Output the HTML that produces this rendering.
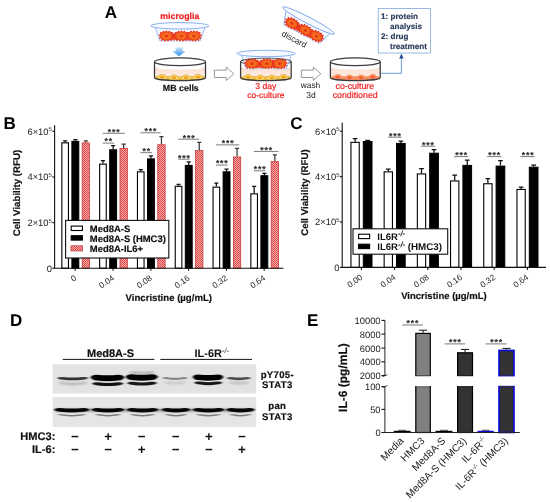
<!DOCTYPE html>
<html><head><meta charset="utf-8"><title>Figure</title>
<style>
html,body{margin:0;padding:0;background:#fff;}
body{width:550px;height:502px;overflow:hidden;}
svg{display:block;filter:blur(0.38px);font-family:"Liberation Sans",Arial,Helvetica,sans-serif;text-rendering:geometricPrecision;}
</style></head><body>
<svg width="550" height="502" viewBox="0 0 550 502">
<defs>
<pattern id="chk" width="2" height="2" patternUnits="userSpaceOnUse">
<rect width="2" height="2" fill="#f5acac"/>
<rect x="0" y="0" width="1" height="1" fill="#de4646"/>
<rect x="1" y="1" width="1" height="1" fill="#de4646"/>
</pattern>
<linearGradient id="barrow" x1="0" y1="0" x2="0" y2="1">
<stop offset="0" stop-color="#cfe6fb"/><stop offset="1" stop-color="#2f8fe6"/>
</linearGradient>
<linearGradient id="med" x1="0" y1="0" x2="0" y2="1"><stop offset="0" stop-color="#fcdfd2"/><stop offset="0.55" stop-color="#fde9e0"/><stop offset="1" stop-color="#fdf1ec"/></linearGradient>
<filter id="b1" x="-20%" y="-200%" width="140%" height="500%"><feGaussianBlur stdDeviation="1.1 0.55"/></filter>
<filter id="b2" x="-20%" y="-200%" width="140%" height="500%"><feGaussianBlur stdDeviation="1.3 0.8"/></filter>
<filter id="bc" x="-20%" y="-20%" width="140%" height="140%"><feGaussianBlur stdDeviation="0.35"/></filter>
<g id="mcell"><g transform="scale(1.03 0.96)">
<path d="M0,-5.3 L1.3,-3.6 L3.2,-5 L3.5,-3 L6,-3.6 L5.2,-1.6 L7.4,-0.6 L5.4,0.6 L7,2.4 L4.6,2.6 L4.8,4.8 L2.6,3.8 L1.6,5.6 L0,4 L-1.6,5.6 L-2.6,3.8 L-4.8,4.8 L-4.6,2.6 L-7,2.4 L-5.4,0.6 L-7.4,-0.6 L-5.2,-1.6 L-6,-3.6 L-3.5,-3 L-3.2,-5 L-1.3,-3.6 Z" fill="#f2601c" stroke="#ea2c1c" stroke-width="0.9" stroke-linejoin="round"/>
<ellipse cx="0" cy="0.2" rx="3.6" ry="2.6" fill="#f3741e"/>
<ellipse cx="0" cy="0.2" rx="1.9" ry="1.4" fill="#e8321c"/>
</g></g>
</defs>
<rect width="550" height="502" fill="#fff"/>

<text x="104.7" y="17.5" font-size="17" font-weight="bold" fill="#000" text-anchor="start">A</text>
<text x="3.5" y="128.5" font-size="17" font-weight="bold" fill="#000" text-anchor="start">B</text>
<text x="290.2" y="128.6" font-size="17" font-weight="bold" fill="#000" text-anchor="start">C</text>
<text x="10.1" y="326.2" font-size="17" font-weight="bold" fill="#000" text-anchor="start">D</text>
<text x="306.9" y="326.4" font-size="17" font-weight="bold" fill="#000" text-anchor="start">E</text>
<g id="panelA">
<text x="179.8" y="18.8" font-size="8.8" font-weight="bold" fill="#ee1c1c" text-anchor="middle" stroke="#ee1c1c" stroke-width="0.18">microglia</text>
<g ><path d="M155.60000000000002,27.8 L160.0,41.0 L200.0,41.0 L204.60000000000002,27.8 Z" fill="#f3f8ff" stroke="none"/><ellipse cx="179.8" cy="25.8" rx="29.1" ry="3.2" fill="#f6f9ff" stroke="#6f9de8" stroke-width="0.8"/><path d="M155.4,28.0 L160.0,41.0 M204.8,28.0 L200.0,41.0" fill="none" stroke="#7da7ea" stroke-width="0.8"/><path d="M160.0,41.0 L200.0,41.0" fill="none" stroke="#7da7ea" stroke-width="0.9" stroke-dasharray="1.5 1.2"/><use href="#mcell" x="173.8" y="36.6" transform="translate(52.14 10.98) scale(0.7)"/><use href="#mcell" x="187.8" y="36.6" transform="translate(56.34 10.98) scale(0.7)"/><use href="#mcell" x="166.4" y="35.8"/><use href="#mcell" x="181.4" y="35.8"/><use href="#mcell" x="194.0" y="35.8"/></g>
<path d="M175.6,47.2 L182.7,47.2 L182.7,51.3 L185.6,51.3 L179.1,56.2 L172.4,51.3 L175.6,51.3 Z" fill="url(#barrow)"/>
<g><path d="M155.0,67.2 A25.0,2.4 0 0 0 205.0,67.2 L205.0,77.39999999999999 A25.0,3.2 0 0 1 155.0,77.39999999999999 Z" fill="url(#med)"/><path d="M155.7,76.49999999999999 L204.3,76.49999999999999 L204.3,77.39999999999999 A24.3,2.7 0 0 1 155.7,77.39999999999999 Z" fill="#fcd96a" stroke="#d6981c" stroke-width="0.5"/><path d="M155.30,78.74 C158.04,77.94 158.38,74.34 162.15,74.34 C165.92,74.34 166.26,77.94 169.00,78.74 Q162.15,80.64 155.30,78.74 Z" fill="#fcd96a" stroke="#d6981c" stroke-width="0.65" stroke-linejoin="round"/><ellipse cx="162.15" cy="77.14" rx="2.0" ry="1.2" fill="#ee9a1c"/><path d="M167.20,79.34 C169.94,78.54 170.28,74.94 174.05,74.94 C177.82,74.94 178.16,78.54 180.90,79.34 Q174.05,81.24 167.20,79.34 Z" fill="#fcd96a" stroke="#d6981c" stroke-width="0.65" stroke-linejoin="round"/><ellipse cx="174.05" cy="77.74" rx="2.0" ry="1.2" fill="#ee9a1c"/><path d="M179.10,79.34 C181.84,78.54 182.18,74.94 185.95,74.94 C189.72,74.94 190.06,78.54 192.80,79.34 Q185.95,81.24 179.10,79.34 Z" fill="#fcd96a" stroke="#d6981c" stroke-width="0.65" stroke-linejoin="round"/><ellipse cx="185.95" cy="77.74" rx="2.0" ry="1.2" fill="#ee9a1c"/><path d="M191.00,78.74 C193.74,77.94 194.08,74.34 197.85,74.34 C201.62,74.34 201.96,77.94 204.70,78.74 Q197.85,80.64 191.00,78.74 Z" fill="#fcd96a" stroke="#d6981c" stroke-width="0.65" stroke-linejoin="round"/><ellipse cx="197.85" cy="77.14" rx="2.0" ry="1.2" fill="#ee9a1c"/><path d="M154.5,61.8 L154.5,77.39999999999999 A25.5,3.2 0 0 0 205.5,77.39999999999999 L205.5,61.8" fill="none" stroke="#3c3c3c" stroke-width="1.3"/><ellipse cx="180.0" cy="61.8" rx="25.5" ry="3.9" fill="#fff" stroke="#3c3c3c" stroke-width="1.3"/></g>
<text x="180.8" y="90.7" font-size="8.9" font-weight="bold" fill="#111" text-anchor="middle" stroke="#111" stroke-width="0.18">MB cells</text>
<path d="M214.4,70.1 L226.3,70.1 L226.3,67.1 L233.8,73.8 L226.3,80.5 L226.3,77.5 L214.4,77.5 Z" fill="#fff" stroke="#808080" stroke-width="0.8" stroke-linejoin="miter"/>
<g><path d="M241.09999999999997,67.0 A24.8,2.4 0 0 0 290.7,67.0 L290.7,77.5 A24.8,3.2 0 0 1 241.09999999999997,77.5 Z" fill="url(#med)"/><path d="M241.79999999999995,76.6 L290.0,76.6 L290.0,77.5 A24.1,2.7 0 0 1 241.79999999999995,77.5 Z" fill="#fcd96a" stroke="#d6981c" stroke-width="0.5"/><path d="M241.40,78.84 C244.12,78.04 244.46,74.44 248.20,74.44 C251.94,74.44 252.28,78.04 255.00,78.84 Q248.20,80.74 241.40,78.84 Z" fill="#fcd96a" stroke="#d6981c" stroke-width="0.65" stroke-linejoin="round"/><ellipse cx="248.20" cy="77.24" rx="2.0" ry="1.2" fill="#ee9a1c"/><path d="M253.20,79.44 C255.92,78.64 256.26,75.04 260.00,75.04 C263.74,75.04 264.08,78.64 266.80,79.44 Q260.00,81.34 253.20,79.44 Z" fill="#fcd96a" stroke="#d6981c" stroke-width="0.65" stroke-linejoin="round"/><ellipse cx="260.00" cy="77.84" rx="2.0" ry="1.2" fill="#ee9a1c"/><path d="M265.00,79.44 C267.72,78.64 268.06,75.04 271.80,75.04 C275.54,75.04 275.88,78.64 278.60,79.44 Q271.80,81.34 265.00,79.44 Z" fill="#fcd96a" stroke="#d6981c" stroke-width="0.65" stroke-linejoin="round"/><ellipse cx="271.80" cy="77.84" rx="2.0" ry="1.2" fill="#ee9a1c"/><path d="M276.80,78.84 C279.52,78.04 279.86,74.44 283.60,74.44 C287.34,74.44 287.68,78.04 290.40,78.84 Q283.60,80.74 276.80,78.84 Z" fill="#fcd96a" stroke="#d6981c" stroke-width="0.65" stroke-linejoin="round"/><ellipse cx="283.60" cy="77.24" rx="2.0" ry="1.2" fill="#ee9a1c"/><path d="M240.59999999999997,61.6 L240.59999999999997,77.5 A25.3,3.2 0 0 0 291.2,77.5 L291.2,61.6" fill="none" stroke="#3c3c3c" stroke-width="1.3"/><ellipse cx="265.9" cy="61.6" rx="25.3" ry="3.4" fill="none" stroke="#3c3c3c" stroke-width="1.0"/></g>
<g ><path d="M241.90000000000003,55.5 L246.3,68.7 L286.3,68.7 L290.90000000000003,55.5 Z" fill="#f3f8ff" stroke="none"/><ellipse cx="266.1" cy="53.5" rx="29.1" ry="3.2" fill="#f6f9ff" stroke="#6f9de8" stroke-width="0.8"/><path d="M241.70000000000002,55.7 L246.3,68.7 M291.1,55.7 L286.3,68.7" fill="none" stroke="#7da7ea" stroke-width="0.8"/><path d="M246.3,68.7 L286.3,68.7" fill="none" stroke="#7da7ea" stroke-width="0.9" stroke-dasharray="1.5 1.2"/><use href="#mcell" x="260.1" y="64.3" transform="translate(78.03 19.29) scale(0.7)"/><use href="#mcell" x="274.1" y="64.3" transform="translate(82.23 19.29) scale(0.7)"/><use href="#mcell" x="251.90000000000003" y="63.5"/><use href="#mcell" x="266.90000000000003" y="63.5"/><use href="#mcell" x="279.70000000000005" y="63.5"/></g>
<path d="M240.6,61.6 A25.3,3.4 0 0 1 291.2,61.6" fill="none" stroke="#2e2e2e" stroke-opacity="0.75" stroke-width="1"/>
<text x="265.8" y="89.2" font-size="8.6" font-weight="normal" fill="#f02020" text-anchor="middle" stroke="#f02020" stroke-width="0.2">3 day</text>
<text x="265.8" y="98.0" font-size="8.5" font-weight="normal" fill="#f02020" text-anchor="middle" stroke="#f02020" stroke-width="0.2">co-culture</text>
<path d="M301.4,70.1 L313.3,70.1 L313.3,67.1 L320.8,73.8 L313.3,80.5 L313.3,77.5 L301.4,77.5 Z" fill="#fff" stroke="#808080" stroke-width="0.8" stroke-linejoin="miter"/>
<text x="310.5" y="87.6" font-size="8.3" font-weight="normal" fill="#222" text-anchor="middle">wash</text>
<text x="310.9" y="97.9" font-size="8.5" font-weight="normal" fill="#222" text-anchor="middle">3d</text>
<g transform="rotate(27.5 308.5 20.5)"><g ><path d="M284.3,22.5 L288.7,35.7 L328.7,35.7 L333.3,22.5 Z" fill="#f3f8ff" stroke="none"/><ellipse cx="308.5" cy="20.5" rx="29.1" ry="3.2" fill="#f6f9ff" stroke="#6f9de8" stroke-width="0.8"/><path d="M284.1,22.7 L288.7,35.7 M333.5,22.7 L328.7,35.7" fill="none" stroke="#7da7ea" stroke-width="0.8"/><path d="M288.7,35.7 L328.7,35.7" fill="none" stroke="#7da7ea" stroke-width="0.9" stroke-dasharray="1.5 1.2"/><use href="#mcell" x="302.5" y="31.3" transform="translate(90.75 9.39) scale(0.7)"/><use href="#mcell" x="316.5" y="31.3" transform="translate(94.95 9.39) scale(0.7)"/><use href="#mcell" x="295.1" y="30.5"/><use href="#mcell" x="310.1" y="30.5"/><use href="#mcell" x="322.7" y="30.5"/></g><text x="304.5" y="46.6" font-size="8.3" font-weight="normal" fill="#222" text-anchor="middle">discard</text></g>
<g><path d="M330.90000000000003,67.2 A24.4,2.4 0 0 0 379.7,67.2 L379.7,77.39999999999999 A24.4,3.2 0 0 1 330.90000000000003,77.39999999999999 Z" fill="url(#med)"/><path d="M331.6,76.49999999999999 L379.0,76.49999999999999 L379.0,77.39999999999999 A23.7,2.7 0 0 1 331.6,77.39999999999999 Z" fill="#fb8a82" stroke="#f3962a" stroke-width="0.5"/><path d="M331.20,78.75 C333.88,77.95 334.22,74.35 337.90,74.35 C341.59,74.35 341.92,77.95 344.60,78.75 Q337.90,80.65 331.20,78.75 Z" fill="#fb8a82" stroke="#f3962a" stroke-width="0.65" stroke-linejoin="round"/><ellipse cx="337.90" cy="77.15" rx="2.0" ry="1.2" fill="#f2600f"/><path d="M342.80,79.34 C345.48,78.54 345.81,74.94 349.50,74.94 C353.19,74.94 353.52,78.54 356.20,79.34 Q349.50,81.24 342.80,79.34 Z" fill="#fb8a82" stroke="#f3962a" stroke-width="0.65" stroke-linejoin="round"/><ellipse cx="349.50" cy="77.74" rx="2.0" ry="1.2" fill="#f2600f"/><path d="M354.40,79.34 C357.08,78.54 357.42,74.94 361.10,74.94 C364.79,74.94 365.12,78.54 367.80,79.34 Q361.10,81.24 354.40,79.34 Z" fill="#fb8a82" stroke="#f3962a" stroke-width="0.65" stroke-linejoin="round"/><ellipse cx="361.10" cy="77.74" rx="2.0" ry="1.2" fill="#f2600f"/><path d="M366.00,78.75 C368.68,77.95 369.02,74.35 372.70,74.35 C376.39,74.35 376.72,77.95 379.40,78.75 Q372.70,80.65 366.00,78.75 Z" fill="#fb8a82" stroke="#f3962a" stroke-width="0.65" stroke-linejoin="round"/><ellipse cx="372.70" cy="77.15" rx="2.0" ry="1.2" fill="#f2600f"/><path d="M330.40000000000003,61.8 L330.40000000000003,77.39999999999999 A24.9,3.2 0 0 0 380.2,77.39999999999999 L380.2,61.8" fill="none" stroke="#3c3c3c" stroke-width="1.3"/><ellipse cx="355.3" cy="61.8" rx="24.9" ry="3.9" fill="#fff" stroke="#3c3c3c" stroke-width="1.3"/></g>
<text x="354.8" y="89.2" font-size="8.8" font-weight="normal" fill="#f02020" text-anchor="middle" stroke="#f02020" stroke-width="0.2">co-culture</text>
<text x="355.2" y="98" font-size="8.8" font-weight="normal" fill="#f02020" text-anchor="middle" stroke="#f02020" stroke-width="0.2">conditioned</text>
<path d="M381,73.3 L401.4,73.3 L401.4,57" fill="none" stroke="#6d98d6" stroke-width="1"/>
<path d="M401.4,53.6 L403.6,58.4 L399.2,58.4 Z" fill="#24479a"/>
<rect x="378.2" y="8.4" width="52.4" height="44.6" fill="#fff" stroke="#6f9fd8" stroke-width="0.7"/>
<text x="381" y="19.4" font-size="8.1" font-weight="bold" fill="#2d3e5f" text-anchor="start" stroke="#2d3e5f" stroke-width="0.18">1: protein</text>
<text x="390" y="28.9" font-size="8.1" font-weight="bold" fill="#2d3e5f" text-anchor="start" stroke="#2d3e5f" stroke-width="0.18">analysis</text>
<text x="381" y="38.5" font-size="8.1" font-weight="bold" fill="#2d3e5f" text-anchor="start" stroke="#2d3e5f" stroke-width="0.18">2: drug</text>
<text x="390" y="48.6" font-size="8.1" font-weight="bold" fill="#2d3e5f" text-anchor="start" stroke="#2d3e5f" stroke-width="0.18">treatment</text>
</g>
<g id="panelB">
<text x="20.5" y="193.1" font-size="9.7" font-weight="bold" fill="#111" text-anchor="middle" transform="rotate(-90 20.5 193.1)" stroke="#111" stroke-width="0.18">Cell Viability (RFU)</text>
<path d="M65.14999999999999,142.3 L65.14999999999999,140.8 M63.099999999999994,140.8 L67.19999999999999,140.8" stroke="#111" stroke-width="1.25" fill="none"/><rect x="61.85" y="142.85" width="6.60" height="125.35" fill="#fff" stroke="#000" stroke-width="1.1"/>
<path d="M75.35,140.8 L75.35,139.6 M73.3,139.6 L77.39999999999999,139.6" stroke="#111" stroke-width="1.25" fill="none"/><rect x="71.90" y="141.30" width="6.90" height="126.90" fill="#000" stroke="#000" stroke-width="1.0"/>
<path d="M85.85,142.5 L85.85,140.8 M83.8,140.8 L87.89999999999999,140.8" stroke="#3a3a3a" stroke-width="1.25" fill="none"/><rect x="82.15" y="142.85" width="7.40" height="125.35" fill="url(#chk)" stroke="#c03030" stroke-width="0.7"/>
<path d="M102.94999999999999,163.6 L102.94999999999999,160.5 M100.89999999999999,160.5 L104.99999999999999,160.5" stroke="#111" stroke-width="1.25" fill="none"/><rect x="99.65" y="164.15" width="6.60" height="104.05" fill="#fff" stroke="#000" stroke-width="1.1"/>
<path d="M113.14999999999999,149.3 L113.14999999999999,145.5 M111.1,145.5 L115.19999999999999,145.5" stroke="#111" stroke-width="1.25" fill="none"/><rect x="109.70" y="149.80" width="6.90" height="118.40" fill="#000" stroke="#000" stroke-width="1.0"/>
<path d="M123.64999999999999,148.0 L123.64999999999999,144.2 M121.6,144.2 L125.69999999999999,144.2" stroke="#3a3a3a" stroke-width="1.25" fill="none"/><rect x="119.95" y="148.35" width="7.40" height="119.85" fill="url(#chk)" stroke="#c03030" stroke-width="0.7"/>
<path d="M140.74999999999997,171.3 L140.74999999999997,169.5 M138.69999999999996,169.5 L142.79999999999998,169.5" stroke="#111" stroke-width="1.25" fill="none"/><rect x="137.45" y="171.85" width="6.60" height="96.35" fill="#fff" stroke="#000" stroke-width="1.1"/>
<path d="M150.94999999999996,158.4 L150.94999999999996,155.8 M148.89999999999995,155.8 L152.99999999999997,155.8" stroke="#111" stroke-width="1.25" fill="none"/><rect x="147.50" y="158.90" width="6.90" height="109.30" fill="#000" stroke="#000" stroke-width="1.0"/>
<path d="M161.45,144.4 L161.45,136.7 M159.39999999999998,136.7 L163.5,136.7" stroke="#3a3a3a" stroke-width="1.25" fill="none"/><rect x="157.75" y="144.75" width="7.40" height="123.45" fill="url(#chk)" stroke="#c03030" stroke-width="0.7"/>
<path d="M178.54999999999998,185.8 L178.54999999999998,184.3 M176.49999999999997,184.3 L180.6,184.3" stroke="#111" stroke-width="1.25" fill="none"/><rect x="175.25" y="186.35" width="6.60" height="81.85" fill="#fff" stroke="#000" stroke-width="1.1"/>
<path d="M188.74999999999997,164.9 L188.74999999999997,161.8 M186.69999999999996,161.8 L190.79999999999998,161.8" stroke="#111" stroke-width="1.25" fill="none"/><rect x="185.30" y="165.40" width="6.90" height="102.80" fill="#000" stroke="#000" stroke-width="1.0"/>
<path d="M199.25,150.1 L199.25,142.3 M197.2,142.3 L201.3,142.3" stroke="#3a3a3a" stroke-width="1.25" fill="none"/><rect x="195.55" y="150.45" width="7.40" height="117.75" fill="url(#chk)" stroke="#c03030" stroke-width="0.7"/>
<path d="M216.35,186.6 L216.35,183.0 M214.29999999999998,183.0 L218.4,183.0" stroke="#111" stroke-width="1.25" fill="none"/><rect x="213.05" y="187.15" width="6.60" height="81.05" fill="#fff" stroke="#000" stroke-width="1.1"/>
<path d="M226.54999999999998,171.3 L226.54999999999998,169.0 M224.49999999999997,169.0 L228.6,169.0" stroke="#111" stroke-width="1.25" fill="none"/><rect x="223.10" y="171.80" width="6.90" height="96.40" fill="#000" stroke="#000" stroke-width="1.0"/>
<path d="M237.05,156.6 L237.05,148.3 M235.0,148.3 L239.10000000000002,148.3" stroke="#3a3a3a" stroke-width="1.25" fill="none"/><rect x="233.35" y="156.95" width="7.40" height="111.25" fill="url(#chk)" stroke="#c03030" stroke-width="0.7"/>
<path d="M254.15,193.3 L254.15,186.3 M252.1,186.3 L256.2,186.3" stroke="#111" stroke-width="1.25" fill="none"/><rect x="250.85" y="193.85" width="6.60" height="74.35" fill="#fff" stroke="#000" stroke-width="1.1"/>
<path d="M264.35,175.2 L264.35,173.4 M262.3,173.4 L266.40000000000003,173.4" stroke="#111" stroke-width="1.25" fill="none"/><rect x="260.90" y="175.70" width="6.90" height="92.50" fill="#000" stroke="#000" stroke-width="1.0"/>
<path d="M274.85,161.0 L274.85,154.8 M272.8,154.8 L276.90000000000003,154.8" stroke="#3a3a3a" stroke-width="1.25" fill="none"/><rect x="271.15" y="161.35" width="7.40" height="106.85" fill="url(#chk)" stroke="#c03030" stroke-width="0.7"/>
<path d="M54.6,125.3 L54.6,268.2 L283.5,268.2" fill="none" stroke="#111" stroke-width="1.1"/><line x1="52.300000000000004" y1="268.2" x2="54.6" y2="268.2" stroke="#111" stroke-width="1.1"/><text x="51.9" y="271.5" font-size="9.4" font-weight="normal" fill="#222" text-anchor="end">0</text><line x1="52.300000000000004" y1="222.7" x2="54.6" y2="222.7" stroke="#111" stroke-width="1.1"/><text x="51.9" y="226.0" font-size="9.4" fill="#222" text-anchor="end">2×10<tspan font-size="6" dy="-3.4">5</tspan></text><line x1="52.300000000000004" y1="177.0" x2="54.6" y2="177.0" stroke="#111" stroke-width="1.1"/><text x="51.9" y="180.3" font-size="9.4" fill="#222" text-anchor="end">4×10<tspan font-size="6" dy="-3.4">5</tspan></text><line x1="52.300000000000004" y1="131.3" x2="54.6" y2="131.3" stroke="#111" stroke-width="1.1"/><text x="51.9" y="134.60000000000002" font-size="9.4" fill="#222" text-anchor="end">6×10<tspan font-size="6" dy="-3.4">5</tspan></text>
<line x1="75.2" y1="268.2" x2="75.2" y2="270.8" stroke="#111" stroke-width="1.1"/>
<text x="77.0" y="279.4" font-size="8.4" font-weight="normal" fill="#222" text-anchor="end" transform="rotate(-35 77.0 279.4)">0</text>
<line x1="113.0" y1="268.2" x2="113.0" y2="270.8" stroke="#111" stroke-width="1.1"/>
<text x="114.8" y="279.4" font-size="8.4" font-weight="normal" fill="#222" text-anchor="end" transform="rotate(-35 114.8 279.4)">0.04</text>
<line x1="150.8" y1="268.2" x2="150.8" y2="270.8" stroke="#111" stroke-width="1.1"/>
<text x="152.60000000000002" y="279.4" font-size="8.4" font-weight="normal" fill="#222" text-anchor="end" transform="rotate(-35 152.60000000000002 279.4)">0.08</text>
<line x1="188.6" y1="268.2" x2="188.6" y2="270.8" stroke="#111" stroke-width="1.1"/>
<text x="190.4" y="279.4" font-size="8.4" font-weight="normal" fill="#222" text-anchor="end" transform="rotate(-35 190.4 279.4)">0.16</text>
<line x1="226.39999999999998" y1="268.2" x2="226.39999999999998" y2="270.8" stroke="#111" stroke-width="1.1"/>
<text x="228.2" y="279.4" font-size="8.4" font-weight="normal" fill="#222" text-anchor="end" transform="rotate(-35 228.2 279.4)">0.32</text>
<line x1="264.2" y1="268.2" x2="264.2" y2="270.8" stroke="#111" stroke-width="1.1"/>
<text x="266.0" y="279.4" font-size="8.4" font-weight="normal" fill="#222" text-anchor="end" transform="rotate(-35 266.0 279.4)">0.64</text>
<text x="168.8" y="301.1" font-size="9.6" font-weight="bold" fill="#111" text-anchor="middle" stroke="#111" stroke-width="0.18">Vincristine (µg/mL)</text>
<line x1="102.64999999999999" y1="143.1" x2="114.14999999999999" y2="143.1" stroke="#444" stroke-width="0.7"/><text x="108.85" y="144.4" font-size="8.6" font-weight="bold" fill="#333" text-anchor="middle" letter-spacing="0.9" stroke="#333" stroke-width="0.18">**</text>
<line x1="102.64999999999999" y1="133.3" x2="124.8" y2="133.3" stroke="#444" stroke-width="0.7"/><text x="114.175" y="134.60000000000002" font-size="8.6" font-weight="bold" fill="#333" text-anchor="middle" letter-spacing="0.9" stroke="#333" stroke-width="0.18">***</text>
<line x1="140.44999999999996" y1="152.7" x2="151.95" y2="152.7" stroke="#444" stroke-width="0.7"/><text x="146.64999999999998" y="154.0" font-size="8.6" font-weight="bold" fill="#333" text-anchor="middle" letter-spacing="0.9" stroke="#333" stroke-width="0.18">**</text>
<line x1="140.44999999999996" y1="132.8" x2="160.6" y2="132.8" stroke="#444" stroke-width="0.7"/><text x="150.97499999999997" y="134.10000000000002" font-size="8.6" font-weight="bold" fill="#333" text-anchor="middle" letter-spacing="0.9" stroke="#333" stroke-width="0.18">***</text>
<line x1="178.24999999999997" y1="159.2" x2="189.75" y2="159.2" stroke="#444" stroke-width="0.7"/><text x="184.45" y="160.5" font-size="8.6" font-weight="bold" fill="#333" text-anchor="middle" letter-spacing="0.9" stroke="#333" stroke-width="0.18">***</text>
<line x1="178.24999999999997" y1="139.2" x2="199.2" y2="139.2" stroke="#444" stroke-width="0.7"/><text x="189.17499999999995" y="140.5" font-size="8.6" font-weight="bold" fill="#333" text-anchor="middle" letter-spacing="0.9" stroke="#333" stroke-width="0.18">***</text>
<line x1="216.04999999999998" y1="165.1" x2="227.55" y2="165.1" stroke="#444" stroke-width="0.7"/><text x="222.25" y="166.4" font-size="8.6" font-weight="bold" fill="#333" text-anchor="middle" letter-spacing="0.9" stroke="#333" stroke-width="0.18">***</text>
<line x1="216.04999999999998" y1="144.9" x2="239.2" y2="144.9" stroke="#444" stroke-width="0.7"/><text x="228.075" y="146.20000000000002" font-size="8.6" font-weight="bold" fill="#333" text-anchor="middle" letter-spacing="0.9" stroke="#333" stroke-width="0.18">***</text>
<line x1="253.85" y1="170.8" x2="265.35" y2="170.8" stroke="#444" stroke-width="0.7"/><text x="260.05" y="172.10000000000002" font-size="8.6" font-weight="bold" fill="#333" text-anchor="middle" letter-spacing="0.9" stroke="#333" stroke-width="0.18">***</text>
<line x1="253.85" y1="151.4" x2="278.6" y2="151.4" stroke="#444" stroke-width="0.7"/><text x="266.675" y="152.70000000000002" font-size="8.6" font-weight="bold" fill="#333" text-anchor="middle" letter-spacing="0.9" stroke="#333" stroke-width="0.18">***</text>
<rect x="65.6" y="220.4" width="103.2" height="37.6" fill="#fff" stroke="#111" stroke-width="1.1"/>
<rect x="71.2" y="226.1" width="11.2" height="4.4" fill="#fff" stroke="#000" stroke-width="1.1"/>
<rect x="71.2" y="235.7" width="11.2" height="4.4" fill="#000" stroke="#000" stroke-width="1.1"/>
<rect x="70.9" y="245.8" width="11.8" height="5.2" fill="url(#chk)" stroke="#c03030" stroke-width="0.6"/>
<text x="89.8" y="231.5" font-size="9.45" font-weight="bold" fill="#111" text-anchor="start" stroke="#111" stroke-width="0.18">Med8A-S</text>
<text x="89.8" y="241.7" font-size="9.45" font-weight="bold" fill="#111" text-anchor="start" stroke="#111" stroke-width="0.18">Med8A-S (HMC3)</text>
<text x="89.8" y="251.9" font-size="9.45" font-weight="bold" fill="#111" text-anchor="start" stroke="#111" stroke-width="0.18">Med8A-IL6+</text>
</g>
<g id="panelC">
<text x="308.4" y="192.5" font-size="9.7" font-weight="bold" fill="#111" text-anchor="middle" transform="rotate(-90 308.4 192.5)" stroke="#111" stroke-width="0.18">Cell Viability (RFU)</text>
<path d="M355.09999999999997,141.8 L355.09999999999997,138.5 M352.74999999999994,138.5 L357.45,138.5" stroke="#111" stroke-width="1.25" fill="none"/><rect x="350.95" y="142.35" width="8.30" height="125.05" fill="#fff" stroke="#000" stroke-width="1.1"/>
<path d="M367.65,141.0 L367.65,140.3 M365.29999999999995,140.3 L370.0,140.3" stroke="#111" stroke-width="1.25" fill="none"/><rect x="363.30" y="141.50" width="8.70" height="125.90" fill="#000" stroke="#000" stroke-width="1.0"/>
<path d="M388.29999999999995,171.3 L388.29999999999995,169.0 M385.94999999999993,169.0 L390.65,169.0" stroke="#111" stroke-width="1.25" fill="none"/><rect x="384.15" y="171.85" width="8.30" height="95.55" fill="#fff" stroke="#000" stroke-width="1.1"/>
<path d="M400.84999999999997,142.9 L400.84999999999997,141.0 M398.49999999999994,141.0 L403.2,141.0" stroke="#111" stroke-width="1.25" fill="none"/><rect x="396.50" y="143.40" width="8.70" height="124.00" fill="#000" stroke="#000" stroke-width="1.0"/>
<path d="M421.49999999999994,173.4 L421.49999999999994,168.7 M419.1499999999999,168.7 L423.84999999999997,168.7" stroke="#111" stroke-width="1.25" fill="none"/><rect x="417.35" y="173.95" width="8.30" height="93.45" fill="#fff" stroke="#000" stroke-width="1.1"/>
<path d="M434.04999999999995,152.7 L434.04999999999995,149.6 M431.69999999999993,149.6 L436.4,149.6" stroke="#111" stroke-width="1.25" fill="none"/><rect x="429.70" y="153.20" width="8.70" height="114.20" fill="#000" stroke="#000" stroke-width="1.0"/>
<path d="M454.7,180.4 L454.7,175.2 M452.34999999999997,175.2 L457.05,175.2" stroke="#111" stroke-width="1.25" fill="none"/><rect x="450.55" y="180.95" width="8.30" height="86.45" fill="#fff" stroke="#000" stroke-width="1.1"/>
<path d="M467.25,164.9 L467.25,160.0 M464.9,160.0 L469.6,160.0" stroke="#111" stroke-width="1.25" fill="none"/><rect x="462.90" y="165.40" width="8.70" height="102.00" fill="#000" stroke="#000" stroke-width="1.0"/>
<path d="M487.9,183.2 L487.9,178.6 M485.54999999999995,178.6 L490.25,178.6" stroke="#111" stroke-width="1.25" fill="none"/><rect x="483.75" y="183.75" width="8.30" height="83.65" fill="#fff" stroke="#000" stroke-width="1.1"/>
<path d="M500.45,165.6 L500.45,160.5 M498.09999999999997,160.5 L502.8,160.5" stroke="#111" stroke-width="1.25" fill="none"/><rect x="496.10" y="166.10" width="8.70" height="101.30" fill="#000" stroke="#000" stroke-width="1.0"/>
<path d="M521.1,188.9 L521.1,187.1 M518.75,187.1 L523.45,187.1" stroke="#111" stroke-width="1.25" fill="none"/><rect x="516.95" y="189.45" width="8.30" height="77.95" fill="#fff" stroke="#000" stroke-width="1.1"/>
<path d="M533.65,166.7 L533.65,165.1 M531.3,165.1 L536.0,165.1" stroke="#111" stroke-width="1.25" fill="none"/><rect x="529.30" y="167.20" width="8.70" height="100.20" fill="#000" stroke="#000" stroke-width="1.0"/>
<path d="M342.2,122.8 L342.2,267.4 L546,267.4" fill="none" stroke="#111" stroke-width="1.1"/><line x1="339.9" y1="267.4" x2="342.2" y2="267.4" stroke="#111" stroke-width="1.1"/><text x="339.5" y="270.7" font-size="9.4" font-weight="normal" fill="#222" text-anchor="end">0</text><line x1="339.9" y1="222.0" x2="342.2" y2="222.0" stroke="#111" stroke-width="1.1"/><text x="339.5" y="225.3" font-size="9.4" fill="#222" text-anchor="end">2×10<tspan font-size="6" dy="-3.4">5</tspan></text><line x1="339.9" y1="176.6" x2="342.2" y2="176.6" stroke="#111" stroke-width="1.1"/><text x="339.5" y="179.9" font-size="9.4" fill="#222" text-anchor="end">4×10<tspan font-size="6" dy="-3.4">5</tspan></text><line x1="339.9" y1="131.2" x2="342.2" y2="131.2" stroke="#111" stroke-width="1.1"/><text x="339.5" y="134.5" font-size="9.4" fill="#222" text-anchor="end">6×10<tspan font-size="6" dy="-3.4">5</tspan></text>
<line x1="361.4" y1="267.4" x2="361.4" y2="270.0" stroke="#111" stroke-width="1.1"/>
<text x="363.2" y="278.59999999999997" font-size="8.4" font-weight="normal" fill="#222" text-anchor="end" transform="rotate(-35 363.2 278.59999999999997)">0.00</text>
<line x1="394.59999999999997" y1="267.4" x2="394.59999999999997" y2="270.0" stroke="#111" stroke-width="1.1"/>
<text x="396.4" y="278.59999999999997" font-size="8.4" font-weight="normal" fill="#222" text-anchor="end" transform="rotate(-35 396.4 278.59999999999997)">0.04</text>
<line x1="427.79999999999995" y1="267.4" x2="427.79999999999995" y2="270.0" stroke="#111" stroke-width="1.1"/>
<text x="429.59999999999997" y="278.59999999999997" font-size="8.4" font-weight="normal" fill="#222" text-anchor="end" transform="rotate(-35 429.59999999999997 278.59999999999997)">0.08</text>
<line x1="461.0" y1="267.4" x2="461.0" y2="270.0" stroke="#111" stroke-width="1.1"/>
<text x="462.8" y="278.59999999999997" font-size="8.4" font-weight="normal" fill="#222" text-anchor="end" transform="rotate(-35 462.8 278.59999999999997)">0.16</text>
<line x1="494.2" y1="267.4" x2="494.2" y2="270.0" stroke="#111" stroke-width="1.1"/>
<text x="496.0" y="278.59999999999997" font-size="8.4" font-weight="normal" fill="#222" text-anchor="end" transform="rotate(-35 496.0 278.59999999999997)">0.32</text>
<line x1="527.4" y1="267.4" x2="527.4" y2="270.0" stroke="#111" stroke-width="1.1"/>
<text x="529.1999999999999" y="278.59999999999997" font-size="8.4" font-weight="normal" fill="#222" text-anchor="end" transform="rotate(-35 529.1999999999999 278.59999999999997)">0.64</text>
<text x="443.9" y="299.3" font-size="9.5" font-weight="bold" fill="#111" text-anchor="middle" stroke="#111" stroke-width="0.18">Vincristine (µg/mL)</text>
<line x1="388.2" y1="137.2" x2="401.6" y2="137.2" stroke="#444" stroke-width="0.7"/><text x="395.34999999999997" y="138.5" font-size="8.6" font-weight="bold" fill="#333" text-anchor="middle" letter-spacing="0.9" stroke="#333" stroke-width="0.18">***</text>
<line x1="420.9" y1="146.2" x2="435.1" y2="146.2" stroke="#444" stroke-width="0.7"/><text x="428.45" y="147.5" font-size="8.6" font-weight="bold" fill="#333" text-anchor="middle" letter-spacing="0.9" stroke="#333" stroke-width="0.18">***</text>
<line x1="454.0" y1="156.6" x2="468.2" y2="156.6" stroke="#444" stroke-width="0.7"/><text x="461.55" y="157.9" font-size="8.6" font-weight="bold" fill="#333" text-anchor="middle" letter-spacing="0.9" stroke="#333" stroke-width="0.18">***</text>
<line x1="487.1" y1="156.6" x2="501.4" y2="156.6" stroke="#444" stroke-width="0.7"/><text x="494.7" y="157.9" font-size="8.6" font-weight="bold" fill="#333" text-anchor="middle" letter-spacing="0.9" stroke="#333" stroke-width="0.18">***</text>
<line x1="520.5" y1="156.6" x2="534.7" y2="156.6" stroke="#444" stroke-width="0.7"/><text x="528.0500000000001" y="157.9" font-size="8.6" font-weight="bold" fill="#333" text-anchor="middle" letter-spacing="0.9" stroke="#333" stroke-width="0.18">***</text>
<rect x="353" y="228.8" width="94.7" height="25.4" fill="#fff" stroke="#111" stroke-width="1.1"/>
<rect x="358.6" y="234.2" width="11" height="4.4" fill="#fff" stroke="#000" stroke-width="1.1"/>
<rect x="358.6" y="244.2" width="11" height="4.4" fill="#000" stroke="#000" stroke-width="1.1"/>
<text x="377.3" y="239.9" font-size="9.5" font-weight="bold" fill="#111">IL6R<tspan font-size="7.6" dy="-3.6" font-style="italic">-/-</tspan></text>
<text x="377.3" y="250.1" font-size="9.5" font-weight="bold" fill="#111">IL6R<tspan font-size="7.6" dy="-3.6" font-style="italic">-/-</tspan><tspan dy="3.6" font-size="9.8"> (HMC3)</tspan></text>
</g>
<g id="panelD">
<text x="110.5" y="356.5" font-size="11" font-weight="bold" fill="#111" text-anchor="middle" stroke="#111" stroke-width="0.18">Med8A-S</text>
<text x="194.5" y="356.5" font-size="11" font-weight="bold" fill="#111">IL-6R<tspan font-size="7.2" dy="-3.6" font-style="italic" font-weight="normal">-/-</tspan></text>
<line x1="62.7" y1="359.4" x2="154.4" y2="359.4" stroke="#111" stroke-width="1"/>
<line x1="160.3" y1="359.4" x2="252" y2="359.4" stroke="#111" stroke-width="1"/>
<rect x="52.6" y="364.3" width="203.6" height="29.2" fill="#e3e3e3"/>
<rect x="52.6" y="397" width="203.6" height="30" fill="#e5e5e5"/>
<path d="M57,378.0 Q58.5,376.80 63,377.00 Q72.75,378.15 82.5,377.00 Q87.0,376.80 88.5,378.0 Q87.0,379.50 82.5,379.70 Q72.75,380.85 63,379.70 Q58.5,379.50 57,378.0 Z" fill="#000" fill-opacity="0.78" filter="url(#b1)"/>
<path d="M58,382.9 Q59.5,382.20 64,382.40 Q73.0,383.55 82,382.40 Q86.5,382.20 88,382.9 Q86.5,383.90 82,384.10 Q73.0,385.25 64,384.10 Q59.5,383.90 58,382.9 Z" fill="#000" fill-opacity="0.3" filter="url(#b2)"/>
<path d="M90.5,377.3 Q92.0,374.55 96.5,374.75 Q107.5,375.90 118.5,374.75 Q123.0,374.55 124.5,377.3 Q123.0,380.35 118.5,380.55 Q107.5,381.70 96.5,380.55 Q92.0,380.35 90.5,377.3 Z" fill="#000" fill-opacity="1.0" filter="url(#b1)"/>
<path d="M92,383.5 Q93.5,382.10 98,382.30 Q107.75,383.45 117.5,382.30 Q122.0,382.10 123.5,383.5 Q122.0,385.20 117.5,385.40 Q107.75,386.55 98,385.40 Q93.5,385.20 92,383.5 Z" fill="#000" fill-opacity="0.92" filter="url(#b1)"/>
<path d="M125.5,376.8 Q127.0,374.05 131.5,374.25 Q141.75,375.40 152,374.25 Q156.5,374.05 158,376.8 Q156.5,379.85 152,380.05 Q141.75,381.20 131.5,380.05 Q127.0,379.85 125.5,376.8 Z" fill="#000" fill-opacity="1.0" filter="url(#b1)"/>
<path d="M127,383.0 Q128.5,381.60 133,381.80 Q142.0,382.95 151,381.80 Q155.5,381.60 157,383.0 Q155.5,384.70 151,384.90 Q142.0,386.05 133,384.90 Q128.5,384.70 127,383.0 Z" fill="#000" fill-opacity="0.9" filter="url(#b1)"/>
<path d="M129,372.65000000000003 Q130.5,372.05 134.72,372.11 Q142.0,372.45 149.28,372.11 Q153.5,372.05 155,372.65000000000003 Q153.5,373.34 149.28,373.40 Q142.0,373.75 134.72,373.40 Q130.5,373.34 129,372.65000000000003 Z" fill="#000" fill-opacity="0.42" filter="url(#b2)"/>
<path d="M162,377.9 Q163.5,376.95 167.72,377.15 Q175.0,378.30 182.28,377.15 Q186.5,376.95 188,377.9 Q186.5,379.15 182.28,379.35 Q175.0,380.50 167.72,379.35 Q163.5,379.15 162,377.9 Z" fill="#000" fill-opacity="0.42" filter="url(#b1)"/>
<path d="M163,382.5 Q164.5,381.90 168.28,382.10 Q175.0,383.25 181.72,382.10 Q185.5,381.90 187,382.5 Q185.5,383.40 181.72,383.60 Q175.0,384.75 168.28,383.60 Q164.5,383.40 163,382.5 Z" fill="#000" fill-opacity="0.2" filter="url(#b2)"/>
<path d="M192.5,376.9 Q194.0,374.25 198.5,374.45 Q208.0,375.60 217.5,374.45 Q222.0,374.25 223.5,376.9 Q222.0,379.85 217.5,380.05 Q208.0,381.20 198.5,380.05 Q194.0,379.85 192.5,376.9 Z" fill="#000" fill-opacity="1.0" filter="url(#b1)"/>
<path d="M194,382.7 Q195.5,381.35 200,381.55 Q208.25,382.70 216.5,381.55 Q221.0,381.35 222.5,382.7 Q221.0,384.35 216.5,384.55 Q208.25,385.70 200,384.55 Q195.5,384.35 194,382.7 Z" fill="#000" fill-opacity="0.9" filter="url(#b1)"/>
<path d="M226.5,377.9 Q228.0,376.75 231.89,376.95 Q238.75,378.10 245.61,376.95 Q249.5,376.75 251,377.9 Q249.5,379.35 245.61,379.55 Q238.75,380.70 231.89,379.55 Q228.0,379.35 226.5,377.9 Z" fill="#000" fill-opacity="0.68" filter="url(#b1)"/>
<path d="M228,382.4 Q229.5,381.75 232.84,381.95 Q239.0,383.10 245.16,381.95 Q248.5,381.75 250,382.4 Q248.5,383.35 245.16,383.55 Q239.0,384.70 232.84,383.55 Q229.5,383.35 228,382.4 Z" fill="#000" fill-opacity="0.26" filter="url(#b2)"/>
<path d="M54,410.2 Q55.5,409.00 60,409.00 Q154.5,409.00 249,409.00 Q253.5,409.00 255,410.2 Q253.5,411.40 249,411.40 Q154.5,411.40 60,411.40 Q55.5,411.40 54,410.2 Z" fill="#000" fill-opacity="0.4" filter="url(#b2)"/>
<path d="M54,409.4 Q55.5,407.68 60,407.92 Q71.75,409.30 83.5,407.92 Q88.0,407.68 89.5,409.4 Q88.0,411.48 83.5,411.72 Q71.75,413.10 60,411.72 Q55.5,411.48 54,409.4 Z" fill="#000" fill-opacity="0.98" filter="url(#b1)"/>
<path d="M57,414.59999999999997 Q58.5,414.03 63,414.27 Q71.75,415.65 80.5,414.27 Q85.0,414.03 86.5,414.59999999999997 Q85.0,415.53 80.5,415.77 Q71.75,417.15 63,415.77 Q58.5,415.53 57,414.59999999999997 Z" fill="#000" fill-opacity="0.48" filter="url(#b1)"/>
<path d="M91.5,409.4 Q93.0,407.68 97.5,407.92 Q108.0,409.30 118.5,407.92 Q123.0,407.68 124.5,409.4 Q123.0,411.48 118.5,411.72 Q108.0,413.10 97.5,411.72 Q93.0,411.48 91.5,409.4 Z" fill="#000" fill-opacity="0.98" filter="url(#b1)"/>
<path d="M94.5,414.59999999999997 Q96.0,414.03 100.44,414.27 Q108.0,415.65 115.56,414.27 Q120.0,414.03 121.5,414.59999999999997 Q120.0,415.53 115.56,415.77 Q108.0,417.15 100.44,415.77 Q96.0,415.53 94.5,414.59999999999997 Z" fill="#000" fill-opacity="0.48" filter="url(#b1)"/>
<path d="M126.5,409.4 Q128.0,407.68 132.5,407.92 Q142.5,409.30 152.5,407.92 Q157.0,407.68 158.5,409.4 Q157.0,411.48 152.5,411.72 Q142.5,413.10 132.5,411.72 Q128.0,411.48 126.5,409.4 Z" fill="#000" fill-opacity="0.98" filter="url(#b1)"/>
<path d="M129.5,414.59999999999997 Q131.0,414.03 135.22,414.27 Q142.5,415.65 149.78,414.27 Q154.0,414.03 155.5,414.59999999999997 Q154.0,415.53 149.78,415.77 Q142.5,417.15 135.22,415.77 Q131.0,415.53 129.5,414.59999999999997 Z" fill="#000" fill-opacity="0.48" filter="url(#b1)"/>
<path d="M161.5,409.4 Q163.0,407.68 167.5,407.92 Q176.0,409.30 184.5,407.92 Q189.0,407.68 190.5,409.4 Q189.0,411.48 184.5,411.72 Q176.0,413.10 167.5,411.72 Q163.0,411.48 161.5,409.4 Z" fill="#000" fill-opacity="0.98" filter="url(#b1)"/>
<path d="M164.5,414.59999999999997 Q166.0,414.03 169.56,414.27 Q176.0,415.65 182.44,414.27 Q186.0,414.03 187.5,414.59999999999997 Q186.0,415.53 182.44,415.77 Q176.0,417.15 169.56,415.77 Q166.0,415.53 164.5,414.59999999999997 Z" fill="#000" fill-opacity="0.48" filter="url(#b1)"/>
<path d="M192.5,409.4 Q194.0,407.68 198.5,407.92 Q208.5,409.30 218.5,407.92 Q223.0,407.68 224.5,409.4 Q223.0,411.48 218.5,411.72 Q208.5,413.10 198.5,411.72 Q194.0,411.48 192.5,409.4 Z" fill="#000" fill-opacity="0.98" filter="url(#b1)"/>
<path d="M195.5,414.59999999999997 Q197.0,414.03 201.22,414.27 Q208.5,415.65 215.78,414.27 Q220.0,414.03 221.5,414.59999999999997 Q220.0,415.53 215.78,415.77 Q208.5,417.15 201.22,415.77 Q197.0,415.53 195.5,414.59999999999997 Z" fill="#000" fill-opacity="0.48" filter="url(#b1)"/>
<path d="M226,409.4 Q227.5,407.68 232,407.92 Q240.5,409.30 249,407.92 Q253.5,407.68 255,409.4 Q253.5,411.48 249,411.72 Q240.5,413.10 232,411.72 Q227.5,411.48 226,409.4 Z" fill="#000" fill-opacity="0.98" filter="url(#b1)"/>
<path d="M229,414.59999999999997 Q230.5,414.03 234.06,414.27 Q240.5,415.65 246.94,414.27 Q250.5,414.03 252,414.59999999999997 Q250.5,415.53 246.94,415.77 Q240.5,417.15 234.06,415.77 Q230.5,415.53 229,414.59999999999997 Z" fill="#000" fill-opacity="0.48" filter="url(#b1)"/>
<text x="55.4" y="439.8" font-size="11.1" font-weight="bold" fill="#111" text-anchor="end" stroke="#111" stroke-width="0.18">HMC3:</text>
<text x="55.4" y="453.3" font-size="11.1" font-weight="bold" fill="#111" text-anchor="end" stroke="#111" stroke-width="0.18">IL-6:</text>
<text x="74.8" y="440.65" font-size="13.4" font-weight="bold" fill="#111" text-anchor="middle">−</text>
<text x="108.2" y="440.65" font-size="13.4" font-weight="bold" fill="#111" text-anchor="middle">+</text>
<text x="141.6" y="440.65" font-size="13.4" font-weight="bold" fill="#111" text-anchor="middle">−</text>
<text x="175.6" y="440.65" font-size="13.4" font-weight="bold" fill="#111" text-anchor="middle">−</text>
<text x="208.8" y="440.65" font-size="13.4" font-weight="bold" fill="#111" text-anchor="middle">+</text>
<text x="241.8" y="440.65" font-size="13.4" font-weight="bold" fill="#111" text-anchor="middle">−</text>
<text x="74.8" y="454.35" font-size="13.4" font-weight="bold" fill="#111" text-anchor="middle">−</text>
<text x="108.2" y="454.35" font-size="13.4" font-weight="bold" fill="#111" text-anchor="middle">−</text>
<text x="141.6" y="454.35" font-size="13.4" font-weight="bold" fill="#111" text-anchor="middle">+</text>
<text x="175.6" y="454.35" font-size="13.4" font-weight="bold" fill="#111" text-anchor="middle">−</text>
<text x="208.8" y="454.35" font-size="13.4" font-weight="bold" fill="#111" text-anchor="middle">−</text>
<text x="241.8" y="454.35" font-size="13.4" font-weight="bold" fill="#111" text-anchor="middle">+</text>
<text x="277.3" y="377.7" font-size="9.6" font-weight="bold" fill="#111" text-anchor="middle" letter-spacing="0.3" stroke="#111" stroke-width="0.18">pY705-</text>
<text x="277.3" y="388.2" font-size="9.6" font-weight="bold" fill="#111" text-anchor="middle" letter-spacing="0.3" stroke="#111" stroke-width="0.18">STAT3</text>
<text x="277.3" y="408.8" font-size="9.6" font-weight="bold" fill="#111" text-anchor="middle" letter-spacing="0.3" stroke="#111" stroke-width="0.18">pan</text>
<text x="277.3" y="420.0" font-size="9.6" font-weight="bold" fill="#111" text-anchor="middle" letter-spacing="0.3" stroke="#111" stroke-width="0.18">STAT3</text>
</g>
<g id="panelE">
<text x="347.0" y="377.6" font-size="12" font-weight="bold" fill="#111" text-anchor="middle" transform="rotate(-90 347.0 377.6)" stroke="#111" stroke-width="0.18">IL-6 (pg/mL)</text>
<rect x="393.7" y="430.8" width="16.900000000000034" height="1.4" fill="#000"/>
<line x1="398.15" y1="430.3" x2="406.15" y2="430.3" stroke="#222" stroke-width="0.8"/>
<path d="M423.04999999999995,332.8 L423.04999999999995,330.2 M419.04999999999995,330.2 L427.04999999999995,330.2" stroke="#111" stroke-width="1" fill="none"/>
<rect x="415.8" y="333.40000000000003" width="14.49999999999999" height="42.20000000000001" fill="#808080" stroke="#000" stroke-width="1.2"/>
<rect x="415.8" y="386.6" width="14.49999999999999" height="45.89999999999998" fill="#808080" stroke="#000" stroke-width="1.2"/>
<rect x="416.4" y="374.4" width="13.299999999999988" height="1.2" fill="#808080"/>
<rect x="416.4" y="386" width="13.299999999999988" height="1.4" fill="#808080"/>
<rect x="435.5" y="430.8" width="16.899999999999977" height="1.4" fill="#000"/>
<line x1="439.95" y1="430.3" x2="447.95" y2="430.3" stroke="#222" stroke-width="0.8"/>
<path d="M465.05,352.2 L465.05,349.4 M461.05,349.4 L469.05,349.4" stroke="#111" stroke-width="1" fill="none"/>
<rect x="457.6" y="352.8" width="14.900000000000023" height="22.800000000000033" fill="#333" stroke="#000" stroke-width="1.2"/>
<rect x="457.6" y="386.6" width="14.900000000000023" height="45.89999999999998" fill="#333" stroke="#000" stroke-width="1.2"/>
<rect x="458.2" y="374.4" width="13.700000000000022" height="1.2" fill="#333"/>
<rect x="458.2" y="386" width="13.700000000000022" height="1.4" fill="#333"/>
<rect x="477.5" y="430.8" width="16.30000000000001" height="1.4" fill="#0808d8"/>
<line x1="481.65" y1="430.3" x2="489.65" y2="430.3" stroke="#222" stroke-width="0.8"/>
<path d="M506.5,349.6 L506.5,348.4 M502.5,348.4 L510.5,348.4" stroke="#111" stroke-width="1" fill="none"/>
<rect x="499.0" y="350.40000000000003" width="14.999999999999966" height="25.2" fill="#333" stroke="#0808d8" stroke-width="1.6"/>
<rect x="499.0" y="386.6" width="14.999999999999966" height="45.89999999999998" fill="#333" stroke="#0808d8" stroke-width="1.6"/>
<rect x="499.8" y="374.4" width="13.399999999999967" height="1.2" fill="#333"/>
<rect x="499.8" y="386" width="13.399999999999967" height="1.4" fill="#333"/>
<path d="M384.9,320.4 L384.9,375.6 M384.9,386.6 L384.9,432.5 L519.8,432.5" fill="none" stroke="#222" stroke-width="1.0"/>
<path d="M382.4,376.6 L387.4,374.8 M382.4,387.4 L387.4,385.6" fill="none" stroke="#111" stroke-width="0.8"/>
<line x1="381.5" y1="320.4" x2="384.9" y2="320.4" stroke="#111" stroke-width="1.1"/>
<text x="380.6" y="323.79999999999995" font-size="9.4" font-weight="normal" fill="#222" text-anchor="end">10000</text>
<line x1="381.5" y1="334.1" x2="384.9" y2="334.1" stroke="#111" stroke-width="1.1"/>
<text x="380.6" y="337.5" font-size="9.4" font-weight="normal" fill="#222" text-anchor="end">8000</text>
<line x1="381.5" y1="348.1" x2="384.9" y2="348.1" stroke="#111" stroke-width="1.1"/>
<text x="380.6" y="351.5" font-size="9.4" font-weight="normal" fill="#222" text-anchor="end">6000</text>
<line x1="381.5" y1="361.8" x2="384.9" y2="361.8" stroke="#111" stroke-width="1.1"/>
<text x="380.6" y="365.2" font-size="9.4" font-weight="normal" fill="#222" text-anchor="end">4000</text>
<line x1="381.5" y1="375.5" x2="384.9" y2="375.5" stroke="#111" stroke-width="1.1"/>
<text x="380.6" y="378.9" font-size="9.4" font-weight="normal" fill="#222" text-anchor="end">2000</text>
<line x1="381.5" y1="386.6" x2="384.9" y2="386.6" stroke="#111" stroke-width="1.1"/>
<text x="380.6" y="390.0" font-size="9.4" font-weight="normal" fill="#222" text-anchor="end">100</text>
<line x1="381.5" y1="409.4" x2="384.9" y2="409.4" stroke="#111" stroke-width="1.1"/>
<text x="380.6" y="412.79999999999995" font-size="9.4" font-weight="normal" fill="#222" text-anchor="end">50</text>
<line x1="381.5" y1="432.5" x2="384.9" y2="432.5" stroke="#111" stroke-width="1.1"/>
<text x="380.6" y="435.9" font-size="9.4" font-weight="normal" fill="#222" text-anchor="end">0</text>
<line x1="402.1" y1="325.0" x2="422.9" y2="325.0" stroke="#444" stroke-width="0.7"/><text x="412.95" y="326.3" font-size="8.6" font-weight="bold" fill="#333" text-anchor="middle" letter-spacing="0.9" stroke="#333" stroke-width="0.18">***</text>
<line x1="444.6" y1="343.9" x2="465.3" y2="343.9" stroke="#444" stroke-width="0.7"/><text x="455.40000000000003" y="345.2" font-size="8.6" font-weight="bold" fill="#333" text-anchor="middle" letter-spacing="0.9" stroke="#333" stroke-width="0.18">***</text>
<line x1="485.5" y1="343.9" x2="506.7" y2="343.9" stroke="#444" stroke-width="0.7"/><text x="496.55" y="345.2" font-size="8.6" font-weight="bold" fill="#333" text-anchor="middle" letter-spacing="0.9" stroke="#333" stroke-width="0.18">***</text>
<text x="404.34999999999997" y="441.5" font-size="10.2" font-weight="normal" fill="#222" text-anchor="end" transform="rotate(-45 404.34999999999997 441.5)">Media</text>
<text x="425.24999999999994" y="441.5" font-size="10.2" font-weight="normal" fill="#222" text-anchor="end" transform="rotate(-45 425.24999999999994 441.5)">HMC3</text>
<text x="446.15" y="441.5" font-size="10.2" font-weight="normal" fill="#222" text-anchor="end" transform="rotate(-45 446.15 441.5)">Med8A-S</text>
<text x="467.25" y="441.5" font-size="10.2" font-weight="normal" fill="#222" text-anchor="end" transform="rotate(-45 467.25 441.5)">Med8A-S (HMC3)</text>
<text x="487.84999999999997" y="441.5" font-size="10.2" fill="#222" text-anchor="end" transform="rotate(-45 487.84999999999997 441.5)">IL-6R<tspan font-size="6.6" dy="-4" font-style="italic">-/-</tspan></text>
<text x="508.7" y="441.5" font-size="10.2" fill="#222" text-anchor="end" transform="rotate(-45 508.7 441.5)">IL-6R<tspan font-size="6.6" dy="-4" font-style="italic">-/-</tspan><tspan dy="4"> (HMC3)</tspan></text>
</g>
</svg></body></html>
